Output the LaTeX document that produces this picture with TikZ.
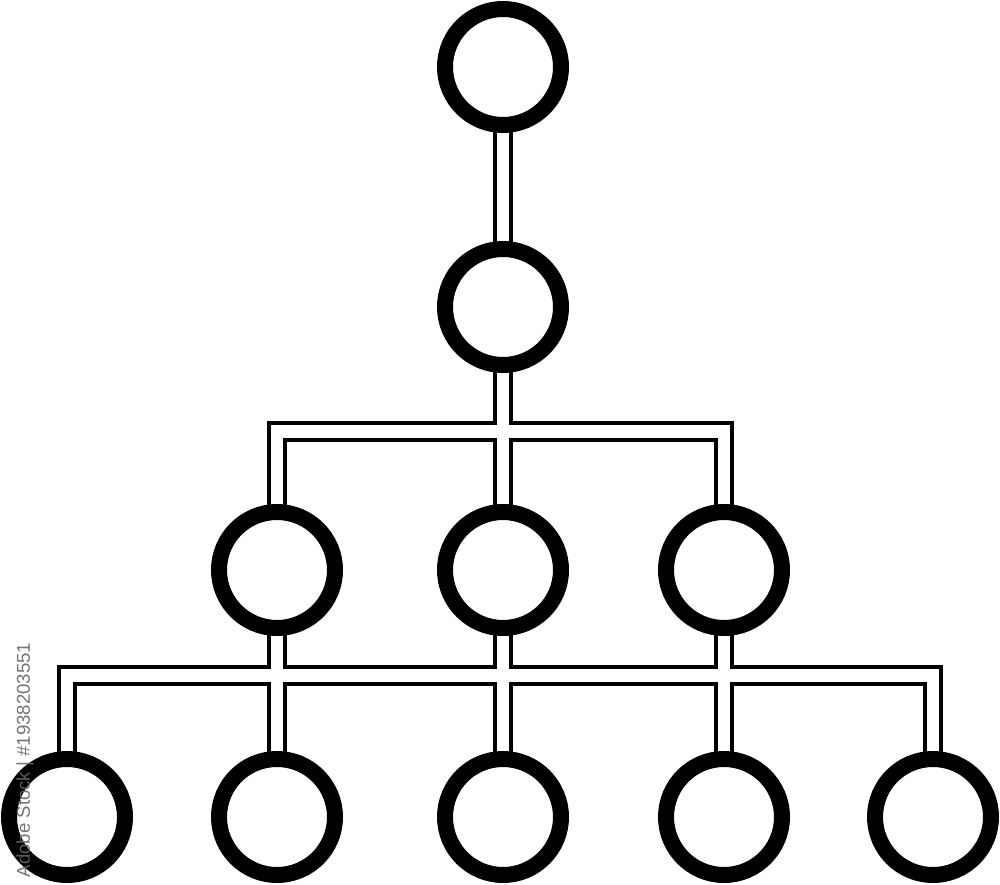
\documentclass[tikz,border=0pt]{standalone}
\usepackage{fontspec}
\setsansfont{Liberation Sans}
\usetikzlibrary{backgrounds}
\newcommand\orgpipes[1]{%
  \draw[#1] (r1.center) -- (r2.center);
  \draw[#1] (r2.center) -- (r3b.center);
  \draw[#1] (r3a.center) -- (r3a.center |- b1) -- (r3c.center |- b1) -- (r3c.center);
  \draw[#1] (r3a.center) -- (r4b.center);
  \draw[#1] (r3b.center) -- (r4c.center);
  \draw[#1] (r3c.center) -- (r4d.center);
  \draw[#1] (r4a.center) -- (r4a.center |- b2) -- (r4e.center |- b2) -- (r4e.center);
}
\begin{document}
\begin{tikzpicture}[x=0.02cm,y=-0.02cm,
  orgnode/.style={circle, draw=black, fill=white, line width=0.32cm,
    minimum size=2.32cm, inner sep=0pt, outer sep=0pt},
  pipeout/.style={draw=black, line width=0.412cm},
  pipein/.style={draw=white, line width=0.252cm},
  stamp/.style={font=\sffamily\fontsize{10.6}{12}\selectfont, text=black!60,
    opacity=0.9, rotate=90, inner sep=0pt}
]
\useasboundingbox (0,0) rectangle (1000,885);
% nodes
\node[orgnode] (r1)  at (503,67)  {};
\node[orgnode] (r2)  at (503,307) {};
\node[orgnode] (r3a) at (277,570) {};
\node[orgnode] (r3b) at (503,570) {};
\node[orgnode] (r3c) at (724,570) {};
\node[orgnode] (r4a) at (67,817)  {};
\node[orgnode] (r4b) at (277,817) {};
\node[orgnode] (r4c) at (503,817) {};
\node[orgnode] (r4d) at (724,817) {};
\node[orgnode] (r4e) at (933,817) {};
\coordinate (b1) at (0,431.7);
\coordinate (b2) at (0,675.5);
% connectors
\begin{scope}[on background layer]
  \orgpipes{pipeout}
  \orgpipes{pipein}
\end{scope}
% stamp text
\node[stamp] (wm) at (25,760) {Adobe Stock | \#1938203551};
\end{tikzpicture}
\end{document}
